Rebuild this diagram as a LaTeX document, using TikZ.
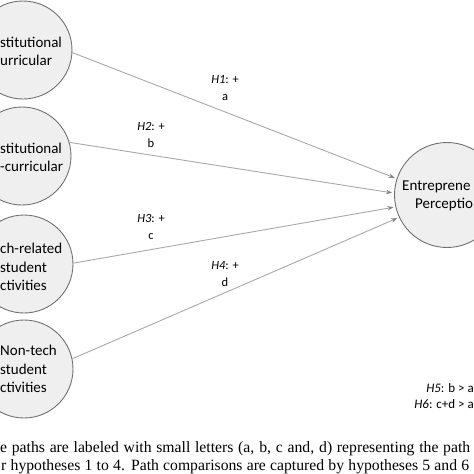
\documentclass[tikz,border=0pt]{standalone}
\usepackage{fontspec}
\setmainfont{Carlito}
\newfontfamily\capfont{Liberation Serif}
\usetikzlibrary{arrows.meta}

\definecolor{ringgray}{HTML}{707070}
\definecolor{fillgray}{HTML}{EFEFEF}
\definecolor{linegray}{HTML}{A8A8A8}
\definecolor{tipgray}{HTML}{808080}

\tikzset{
  factor/.style={circle, draw=ringgray, fill=fillgray, line width=0.9pt,
    minimum size=98pt, inner sep=0pt},
  ftext/.style={anchor=west, align=left, inner sep=0pt,
    font=\fontsize{15}{18.3}\selectfont},
  path arrow/.style={draw=linegray, line width=0.9pt, shorten >=2pt,
    -{Stealth[length=6pt, width=4.5pt, color=tipgray]}},
  hyp/.style={align=center, font=\fontsize{12.5}{16.5}\selectfont},
  caption/.style={anchor=base west, inner sep=0pt,
    font=\capfont\fontsize{15.7}{18}\selectfont}
}

\begin{document}
\begin{tikzpicture}[x=1pt, y=-1pt]
  \useasboundingbox (0,0) rectangle (474,474);
  \clip (0,0) rectangle (474,474);

  % latent variables
  \node[factor] (IC) at (23,50) {};
  \node[factor] (ICC) at (22,156) {};
  \node[factor] (TSA) at (24,264) {};
  \node[factor] (NSA) at (24,369) {};
  \node[factor, minimum size=105pt] (EP) at (447,195) {};

  \node[ftext] (IC-t) at (0,51) {stitutional\\urricular};
  \node[ftext] (ICC-t) at (0,157) {stitutional\\-curricular};
  \node[ftext] (TSA-t) at (0,267) {ch-related\\student\\ctivities};
  \node[ftext] (NSA-t) at (0,369) {Non-tech\\student\\ctivities};
  \node[ftext] (EP-t1) at (402,187) {Entreprene};
  \node[ftext] (EP-t2) at (415,205) {Perceptio};

  % paths
  \draw[path arrow] (IC.-3) -- (EP.162);
  \draw[path arrow] (ICC.16) -- (EP.178);
  \draw[path arrow] (TSA.1) -- (EP.193);
  \draw[path arrow] (NSA.12) -- (EP.205);

  % path labels
  \node[hyp] (H1) at (225,88) {\textit{H1}: +\\a};
  \node[hyp] (H2) at (151,135) {\textit{H2}: +\\b};
  \node[hyp] (H3) at (151,227) {\textit{H3}: +\\c};
  \node[hyp] (H4) at (225,274) {\textit{H4}: +\\d};
  \node[hyp, font=\fontsize{13}{16}\selectfont, align=right, anchor=east,
    inner xsep=0pt] (Hcmp) at (474,396)
    {\textit{H5}: b > a\\\textit{H6}: c+d > a};

  % note
  \node[caption] (note1) at (0,452)
    {\makebox[470pt][s]{e paths are labeled with small letters (a, b, c and, d) representing the path}};
  \node[caption] (note2) at (1,470)
    {\makebox[468pt][s]{r hypotheses 1 to 4. Path comparisons are captured by hypotheses 5 and 6}};
\end{tikzpicture}
\end{document}
